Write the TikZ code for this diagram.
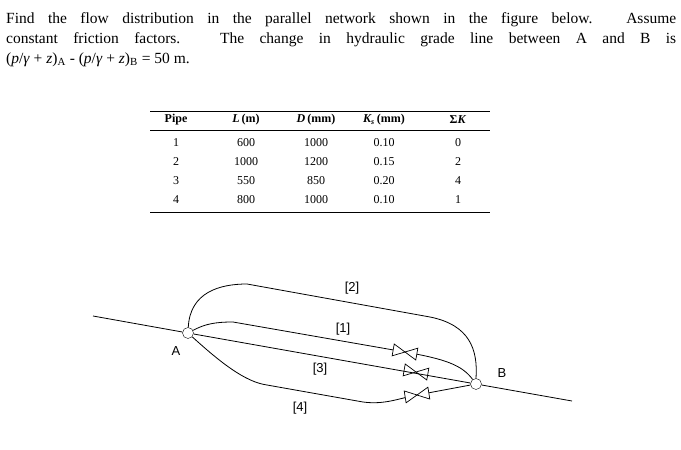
\documentclass[tikz,border=0pt]{standalone}
\usepackage{fontspec}
\setmainfont{Liberation Serif}
\newfontfamily\labfont{Liberation Sans}
\begin{document}
\begin{tikzpicture}[x=1pt,y=-1pt,
  txt/.style={anchor=west,inner sep=0pt,font=\fontsize{15.5}{18}\selectfont},
  tab/.style={inner sep=0pt,font=\fontsize{12}{14}\selectfont},
  lab/.style={inner sep=0pt,font=\labfont\fontsize{13}{15}\selectfont},
  junc/.style={circle,draw,fill=white,minimum size=11pt,inner sep=0pt},
  pipe/.style={line width=0.8pt},
  valve/.pic={\draw[line width=0.7pt,fill=white] (-12,-6)--(12,6)--(12,-6)--(-12,6)--cycle;},
  valveo/.pic={\draw[line width=0.7pt] (-12,-6)--(12,6)--(12,-6)--(-12,6)--cycle;}]
\useasboundingbox (0,0) rectangle (681,450);
\node[txt] (t1) at (6,20) {\makebox[670pt][s]{Find the flow distribution in the parallel network shown in the figure below. Assume}};
\node[txt] (t2) at (6,40) {\makebox[670pt][s]{constant friction factors. The change in hydraulic grade line between A and B is}};
\node[txt] (t3) at (6,60) {(\textit{p}/\textit{γ} + \textit{z})\textsubscript{A} - (\textit{p}/\textit{γ} + \textit{z})\textsubscript{B} = 50 m.};
% table
\draw[line width=0.8pt] (150,111) -- (490,111);
\draw[line width=0.5pt] (150,130) -- (490,130);
\draw[line width=0.8pt] (150,212) -- (490,212);
\node[tab] (h1) at (176,120) {\textbf{Pipe}};
\node[tab] (h2) at (246,120) {\textbf{\textit{L}\,(m)}};
\node[tab] (h3) at (316,120) {\textbf{\textit{D}\,(mm)}};
\node[tab] (h4) at (384,120) {\textbf{\textit{K\textsubscript{s}}\,(mm)}};
\node[tab] (h5) at (458,120) {\textbf{Σ\textit{K}}};
\foreach \p/\l/\d/\k/\s [count=\i] in {1/600/1000/0.10/0,2/1000/1200/0.15/2,3/550/850/0.20/4,4/800/1000/0.10/1}{
  \pgfmathsetmacro\yy{124+19*\i}
  \node[tab] (p\i) at (176,\yy) {\p};
  \node[tab] (l\i) at (246,\yy) {\l};
  \node[tab] (d\i) at (316,\yy) {\d};
  \node[tab] (k\i) at (384,\yy) {\k};
  \node[tab] (s\i) at (458,\yy) {\s};
}
% network
\coordinate (w) at (93,316);
\coordinate (e) at (572,401);
\node[junc] (A) at (188,333) {};
\node[junc] (B) at (476,384) {};
\draw[pipe] (w) -- (A);
\draw[pipe] (B) -- (e);
\draw[pipe] (A) .. controls (190,292) and (220,284) .. (247,284) -- (430,317) .. controls (470,325) and (478,350) .. (B.north);
\draw[pipe] (A) .. controls (205,324) and (215,322) .. (233,322) -- (405,352) .. controls (445,359) and (462,365) .. (B);
\draw[pipe] (A) -- (B);
\draw[pipe] (A) .. controls (220,362) and (245,382) .. (267,385) -- (363,402) .. controls (385,405) and (400,398) .. (417,395) -- (B);
\pic[rotate=-10] at (405,352) {valve};
\pic[rotate=-10] at (416,372) {valveo};
\pic[rotate=9] at (417,395) {valve};
\node[lab] (l2) at (352,288) {[2]};
\node[lab] (l1) at (343,329) {[1]};
\node[lab] (l3) at (320,369) {[3]};
\node[lab] (l4) at (300,408) {[4]};
\node[lab] (la) at (176,351) {A};
\node[lab] (lb) at (502,373) {B};
\end{tikzpicture}
\end{document}
